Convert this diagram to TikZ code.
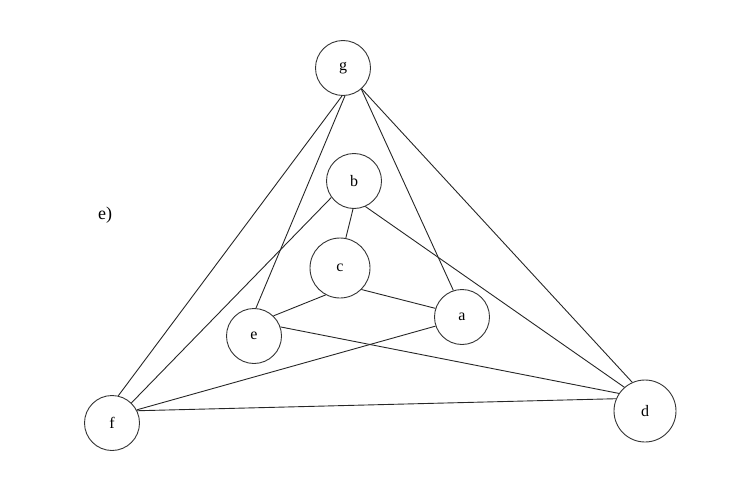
\documentclass[tikz,border=0pt]{standalone}
\usepackage{fontspec}
\setmainfont{Liberation Serif}
\usetikzlibrary{positioning}

\begin{document}
\begin{tikzpicture}[x=1pt,y=-1pt,
    vertex/.style={draw=black!80,line width=0.9pt,circle,minimum size=55pt,inner sep=0pt,
      font=\fontsize{16}{18}\selectfont},
    edge/.style={draw=black!85,line width=0.9pt}]
  \useasboundingbox (0,0) rectangle (738,476);

  % ---- Label --------------------------------
  \node[font=\fontsize{18}{20}\selectfont] (lbl) at (105,215) {e)};

  % ---- Vertices -----------------------------
  \node[vertex] (g) at (343,68)  {g};
  \node[vertex] (b) at (354,181) {b};
  \node[vertex,minimum size=60pt] (c) at (340,268) {c};
  \node[vertex] (e) at (254,336) {e};
  \node[vertex] (a) at (462,317) {a};
  \node[vertex] (f) at (112,423) {f};
  \node[vertex,minimum size=62pt] (d) at (645,411) {d};

  % ---- Edges --------------------------------
  % outer triangle
  \draw[edge] (g.-92) -- (f.77);
  \draw[edge] (g.-48) -- (d.114);
  \draw[edge] (f.26) -- (d.157);
  % inner spokes
  \draw[edge] (g.-86) -- (e.86);
  \draw[edge] (g.-49) -- (a.108);
  \draw[edge] (b.216) -- (f.46);
  \draw[edge] (b.-66) -- (d.131);
  \draw[edge] (a.199) -- (f.28);
  \draw[edge] (e.19) -- (d.146);
  % centre
  \draw[edge] (b.-92) -- (c.79);
  \draw[edge] (c.242) -- (e.46);
  \draw[edge] (c.-45) -- (a.162);

\end{tikzpicture}
\end{document}
